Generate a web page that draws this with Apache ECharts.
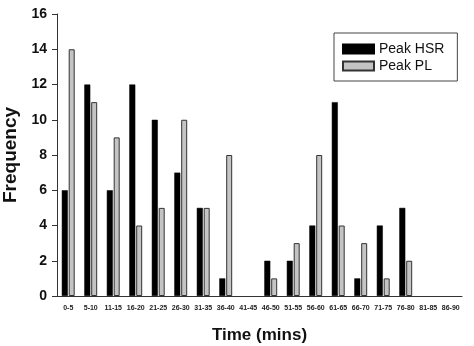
<!DOCTYPE html>
<html>
<head>
<meta charset="utf-8">
<script src="https://cdn.jsdelivr.net/npm/echarts@6/dist/echarts.min.js"></script>
<style>html,body{margin:0;padding:0;background:#fff}#c{width:474px;height:346px}</style>
</head>
<body>
<div id="c"></div>
<script>
const categories = ['0-5','5-10','11-15','16-20','21-25','26-30','31-35','36-40','41-45','46-50','51-55','56-60','61-65','66-70','71-75','76-80','81-85','86-90'];
const peakHSR = [6,12,6,12,10,7,5,1,0,2,2,4,11,1,4,5,0,0];
const peakPL  = [14,11,9,4,5,10,5,8,0,1,3,8,4,3,1,2,0,0];
const yTicks = [0,2,4,6,8,10,12,14,16];

function toItems(arr){
  return arr.map(v => v === 0 ? {value:v, itemStyle:{borderWidth:0, opacity:0}} : v);
}

const chart = echarts.init(document.getElementById('c'), null, {renderer:'canvas'});
const font = 'Arial, "Liberation Sans", sans-serif';
chart.setOption({
  animation:false,
  textStyle:{fontFamily:font},
  grid:{left:57,right:12,top:14,bottom:50,containLabel:false,outerBoundsMode:'none'},
  legend:{
    orient:'vertical', left:334, top:33,
    width:121,
    padding:[8,13,7,8],
    borderColor:'#444', borderWidth:1,
    itemWidth:31, itemHeight:9, itemGap:1,
    icon:'rect',
    textStyle:{fontSize:14, fontFamily:font, color:'#111', lineHeight:16},
    data:['Peak HSR','Peak PL']
  },
  xAxis:{
    type:'category', data:categories,
    name:'Time (mins)', nameLocation:'middle', nameGap:31,
    nameTextStyle:{fontSize:17,fontWeight:'bold',color:'#111',fontFamily:font},
    axisLine:{lineStyle:{color:'#333',width:1}},
    axisTick:{alignWithLabel:true,length:4,lineStyle:{color:'#333'}},
    axisLabel:{fontSize:7,fontWeight:'bold',color:'#222',margin:9,interval:0}
  },
  yAxis:{
    type:'value', min:yTicks[0], max:yTicks[yTicks.length-1], interval:2,
    name:'Frequency', nameLocation:'middle', nameGap:32, nameRotate:90,
    nameTextStyle:{fontSize:19,fontWeight:'bold',color:'#111',fontFamily:font},
    axisLine:{show:true,lineStyle:{color:'#333',width:1}},
    axisTick:{show:true,length:5,lineStyle:{color:'#333'}},
    axisLabel:{fontSize:14,fontWeight:'bold',color:'#111',margin:10},
    splitLine:{show:false}
  },
  series:[
    {name:'Peak HSR',type:'bar',data:toItems(peakHSR),barWidth:6,barGap:'15%',
      itemStyle:{color:'#000',borderColor:'#000',borderWidth:0.5}},
    {name:'Peak PL',type:'bar',data:toItems(peakPL),barWidth:6,
      itemStyle:{color:'#c4c4c4',borderColor:'#333',borderWidth:1}}
  ]
});
</script>
</body>
</html>
